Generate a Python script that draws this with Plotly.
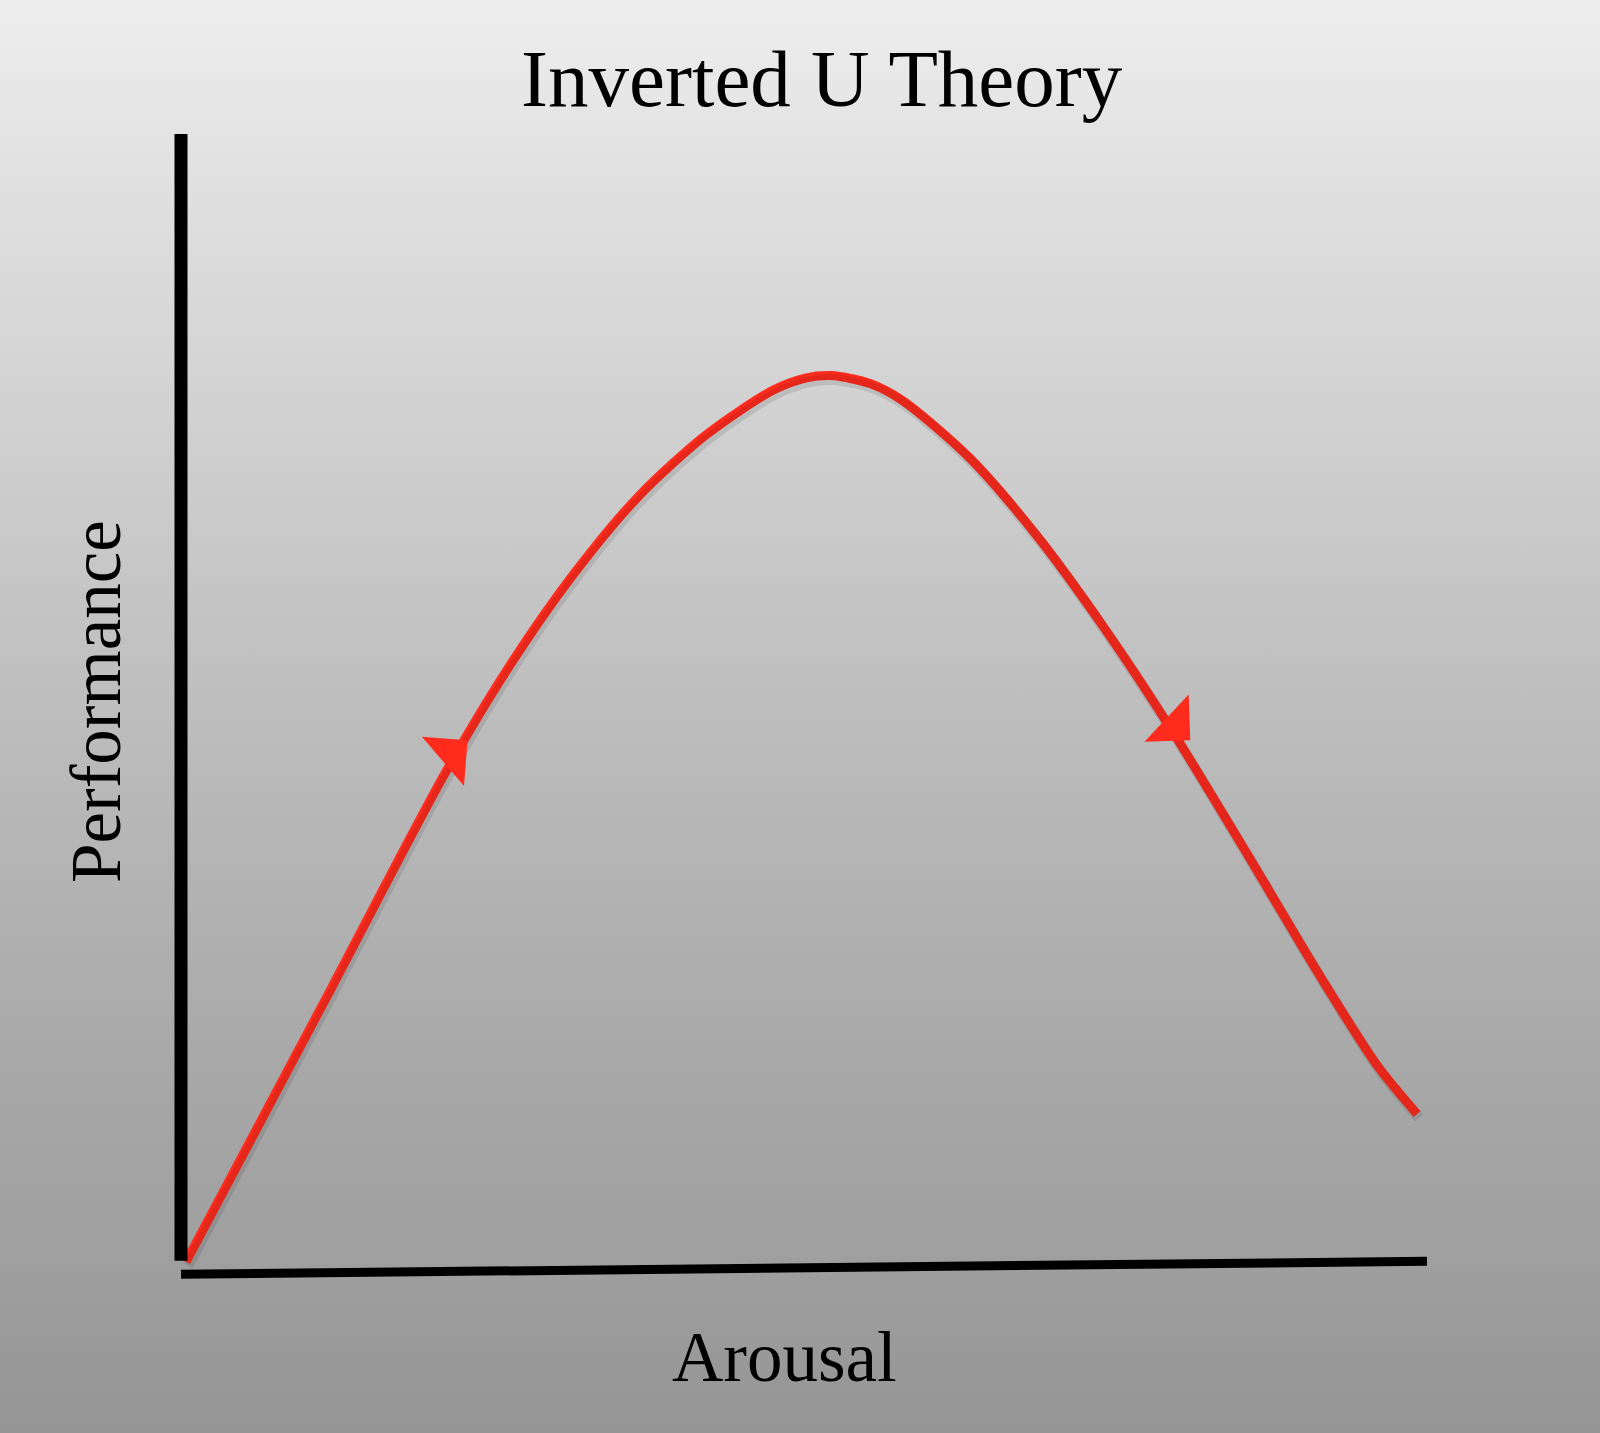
import base64
import plotly.graph_objects as go

# ---------------- data ----------------
arousal = [0.04, 1.20, 2.10, 2.62, 3.15, 3.68, 4.22, 4.75, 5.02, 5.22,
           5.53, 5.79, 6.33, 6.87, 7.40, 7.94, 8.58, 9.12, 9.60, 9.92]
performance = [0.01, 2.42, 4.30, 5.26, 6.10, 6.80, 7.34, 7.73, 7.84, 7.86,
               7.79, 7.64, 7.13, 6.44, 5.64, 4.74, 3.58, 2.58, 1.75, 1.32]

# arrow heads on the curve (tip position, direction in screen pixels)
arrow_arousal = [2.30, 8.10]
arrow_performance = [4.63, 4.63]
arrow_dir_px = [(24, -20.5), (22, 20.5)]

title_text = "Inverted U Theory"
x_label = "Arousal"
y_label = "Performance"

# axis frame extents (data units)
axis_x_max = 10.0
axis_y_max = 10.0

RED = "#FF2B1D"
FONT = "Liberation Serif, Times New Roman, serif"

W, H = 1600, 1433
PX_X, PX_Y = 124.6, 112.9      # pixels per data unit
X0_PX, Y0_PX = 181, 1263        # pixel position of the data origin

# ---------------- background gradient ----------------
stops = [(0.0, "#eeeeee"), (0.10, "#e3e3e3"), (0.28, "#d2d2d2"),
         (0.52, "#bbbbbb"), (0.77, "#a6a6a6"), (0.88, "#9f9f9f"),
         (1.0, "#959595")]
stop_xml = "".join(f'<stop offset="{o}" stop-color="{c}"/>' for o, c in stops)
svg = (f'<svg xmlns="http://www.w3.org/2000/svg" width="{W}" height="{H}" '
       f'viewBox="0 0 {W} {H}" preserveAspectRatio="none">'
       f'<defs><linearGradient id="g" x1="0" y1="0" x2="0" y2="1">{stop_xml}'
       f'</linearGradient></defs><rect width="{W}" height="{H}" fill="url(#g)"/></svg>')
bg_src = "data:image/svg+xml;base64," + base64.b64encode(svg.encode()).decode()

fig = go.Figure()

# soft drop shadow: same data drawn on an overlay axis shifted by a few pixels
SH_DX, SH_DY = 2, 4
fig.add_trace(go.Scatter(
    x=arousal, y=performance, mode="lines", xaxis="x2", yaxis="y2",
    line=dict(color="rgba(0,0,0,0.10)", width=11, shape="spline", smoothing=0.8),
    hoverinfo="skip", showlegend=False,
))

fig.add_trace(go.Scatter(
    x=arousal, y=performance, mode="lines",
    line=dict(color=RED, width=9, shape="spline", smoothing=0.8),
    hoverinfo="skip", showlegend=False,
))

shapes = [
    # vertical (Performance) axis
    dict(type="line", xref="x", yref="y", x0=0, x1=0, y0=0.02, y1=axis_y_max,
         line=dict(color="black", width=13)),
    # horizontal (Arousal) axis, slightly tilted
    dict(type="line", xref="x", yref="y", x0=0, x1=axis_x_max, y0=-0.10, y1=0.015,
         line=dict(color="black", width=9)),
]

annotations = []
L = 22
for xa, ya, (dx, dy) in zip(arrow_arousal, arrow_performance, arrow_dir_px):
    n = (dx * dx + dy * dy) ** 0.5
    annotations.append(dict(
        x=xa, y=ya, xref="x", yref="y", text="", showarrow=True,
        ax=-dx / n * L, ay=-dy / n * L,
        arrowhead=1, arrowsize=2.7, arrowwidth=4, arrowcolor=RED,
    ))

annotations += [
    dict(text=title_text, x=822 / W, y=1 - 79 / H, xref="paper", yref="paper",
         showarrow=False, font=dict(family=FONT, size=81, color="black"),
         xanchor="center", yanchor="middle"),
    dict(text=x_label, x=784 / W, y=1 - 1357 / H, xref="paper", yref="paper",
         showarrow=False, font=dict(family=FONT, size=71, color="black"),
         xanchor="center", yanchor="middle"),
    dict(text=y_label, x=96 / W, y=1 - 702 / H, xref="paper", yref="paper",
         showarrow=False, textangle=-90,
         font=dict(family=FONT, size=71, color="black"),
         xanchor="center", yanchor="middle"),
]

x_range = [-X0_PX / PX_X, (W - X0_PX) / PX_X]
y_range = [(Y0_PX - H) / PX_Y, Y0_PX / PX_Y]
x2_range = [r - SH_DX / PX_X for r in x_range]
y2_range = [r + SH_DY / PX_Y for r in y_range]

fig.update_layout(
    width=W, height=H,
    margin=dict(l=0, r=0, t=0, b=0),
    paper_bgcolor="#c0c0c0",
    plot_bgcolor="rgba(0,0,0,0)",
    xaxis=dict(range=x_range, visible=False, domain=[0, 1], fixedrange=True),
    yaxis=dict(range=y_range, visible=False, domain=[0, 1], fixedrange=True),
    xaxis2=dict(range=x2_range, visible=False, domain=[0, 1], overlaying="x",
                fixedrange=True),
    yaxis2=dict(range=y2_range, visible=False, domain=[0, 1], overlaying="y",
                fixedrange=True),
    shapes=shapes,
    annotations=annotations,
    images=[dict(source=bg_src, xref="paper", yref="paper", x=0, y=1,
                 sizex=1, sizey=1, xanchor="left", yanchor="top",
                 sizing="stretch", layer="below")],
    showlegend=False,
)

fig.write_html(
    "out.html",
    config=dict(displayModeBar=False),
    post_script="document.body.style.margin='0';document.body.style.overflow='hidden';",
)
